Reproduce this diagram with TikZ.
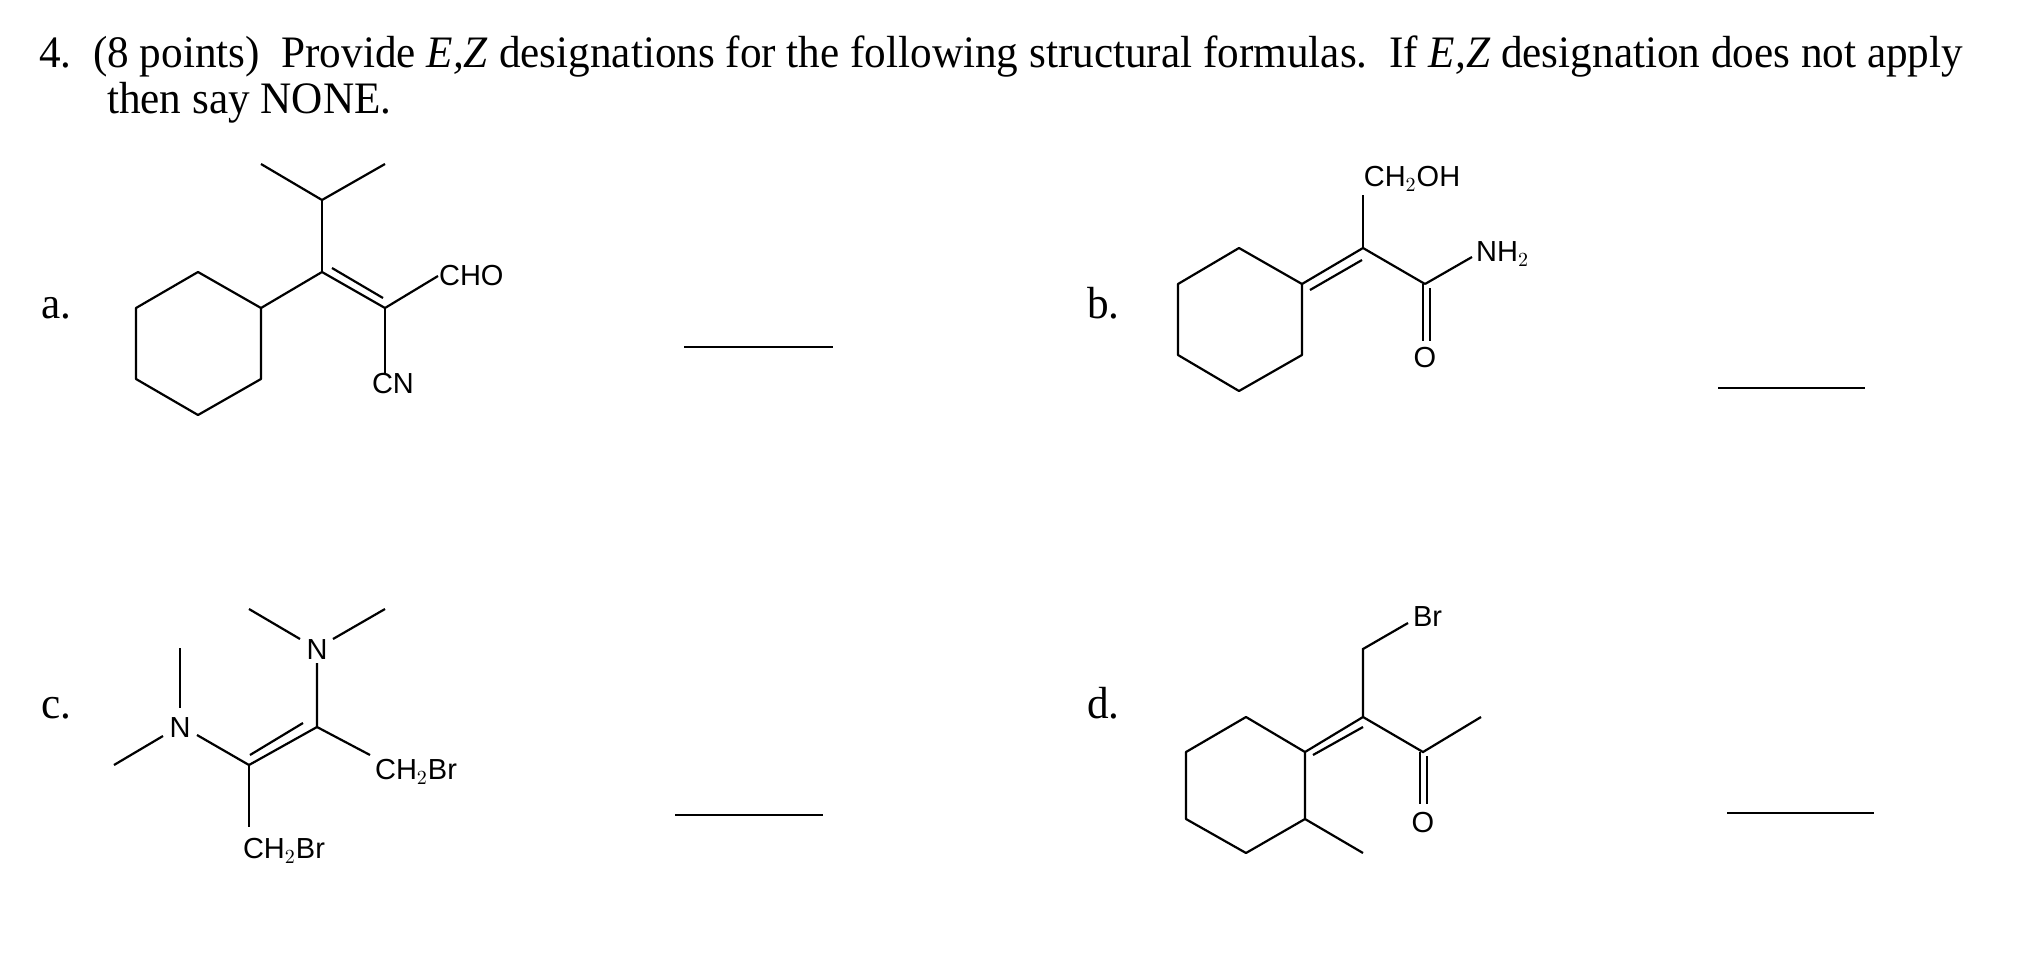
\documentclass[tikz,border=0pt]{standalone}
\usepackage{fontspec}
\setmainfont{Liberation Serif}[FakeStretch=0.96]
\newfontfamily\chemfont{Liberation Sans}
\begin{document}
\begin{tikzpicture}[x=0.5pt,y=-0.5pt,line width=1.1pt,
  lab/.style={font=\chemfont\fontsize{14.5}{16}\selectfont,inner sep=0pt},
  ttl/.style={font=\fontsize{22.5}{26}\selectfont,inner sep=0pt,anchor=base west},
  ans/.style={line width=0.9pt}]
\useasboundingbox (0,0) rectangle (2040,964);
\node[ttl] (t1) at (38,67) {4.\ \ (8 points)\ \ Provide \textit{E,Z} designations for the following structural formulas.\ \ If \textit{E,Z} designation does not apply};
\node[ttl] (t2) at (106,113) {then say NONE.};
\node[ttl] (la) at (40,318) {a.};
\node[ttl] (lb) at (1086,318) {b.};
\node[ttl] (lc) at (40,718) {c.};
\node[ttl] (ld) at (1086,718) {d.};
% a
\coordinate (a1) at (198,272); \coordinate (a2) at (261,308); \coordinate (a3) at (261,379);
\coordinate (a4) at (198,415); \coordinate (a5) at (136,379); \coordinate (a6) at (136,308);
\draw[line join=round] (a1)--(a2)--(a3)--(a4)--(a5)--(a6)--cycle;
\coordinate (ac1) at (322,272); \coordinate (ac2) at (385,308); \coordinate (ai) at (322,200);
\coordinate (am1) at (261,164); \coordinate (am2) at (385,164);
\draw (a2)--(ac1)--(ac2); \draw (ac1)--(ai); \draw (am1)--(ai)--(am2);
\draw (332,268)--(383,298);
\node[lab,anchor=west] (cho) at (438,276) {CHO};
\node[lab] (cn) at (393,384) {CN};
\draw (ac2)--(cho.west); \draw (ac2)--(cn.north -| ac2);
\draw[ans] (684,347)--(833,347);
% b
\coordinate (b1) at (1239,248); \coordinate (b2) at (1302,284); \coordinate (b3) at (1302,355);
\coordinate (b4) at (1239,391); \coordinate (b5) at (1178,355); \coordinate (b6) at (1178,284);
\draw[line join=round] (b1)--(b2)--(b3)--(b4)--(b5)--(b6)--cycle;
\coordinate (bc) at (1363,248); \coordinate (bk) at (1425,284);
\draw (b2)--(bc)--(bk); \draw (1310,290)--(1362,260);
\node[lab] (ch2oh) at (1412,179) {CH$_2$OH};
\draw (bc)--(1363,195);
\node[lab,anchor=west] (nh2) at (1475,254) {NH$_2$};
\draw (bk)--(1472,257);
\node[lab] (ob) at (1425,358) {O};
\draw (1423,284)--(1423,341); \draw (1430,288)--(1430,341);
\draw[ans] (1718,388)--(1865,388);
% c
\node[lab] (nt) at (317,650) {N};
\node[lab] (nl) at (180,728) {N};
\coordinate (cc1) at (317,727); \coordinate (cc2) at (249,765);
\draw (249,609)--(300,639); \draw (385,609)--(333,639);
\draw (317,663)--(cc1)--(cc2); \draw (250,755)--(303,723);
\draw (180,648)--(180,708); \draw (114,765)--(163,736); \draw (197,735)--(cc2);
\draw (cc1)--(370,755); \draw (cc2)--(249,827);
\node[lab,anchor=west] (br1) at (374,772) {CH$_2$Br};
\node[lab] (br2) at (284,851) {CH$_2$Br};
\draw[ans] (675,815)--(823,815);
% d
\coordinate (d1) at (1246,717); \coordinate (d2) at (1305,752); \coordinate (d3) at (1305,819);
\coordinate (d4) at (1246,853); \coordinate (d5) at (1186,819); \coordinate (d6) at (1186,752);
\draw[line join=round] (d1)--(d2)--(d3)--(d4)--(d5)--(d6)--cycle;
\draw (d3)--(1363,853);
\coordinate (dc) at (1363,717); \coordinate (dk) at (1423,752);
\draw (d2)--(dc)--(dk)--(1481,717); \draw (1313,755)--(1363,727);
\draw (dc)--(1363,649)--(1408,623);
\node[lab,anchor=west] (br3) at (1412,617) {Br};
\node[lab] (od) at (1423,823) {O};
\draw (1420,752)--(1420,804); \draw (1427,756)--(1427,804);
\draw[ans] (1727,813)--(1874,813);
\end{tikzpicture}
\end{document}
